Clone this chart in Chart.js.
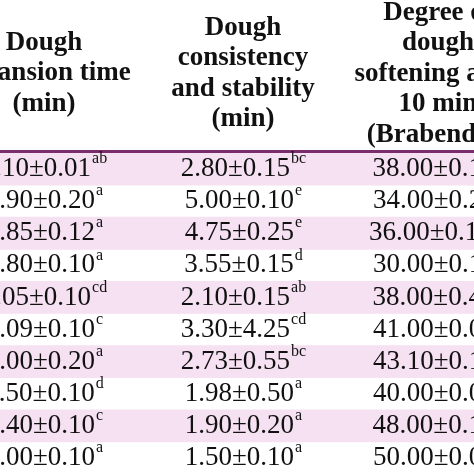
<!DOCTYPE html>
<html lang="en">
<head>
<meta charset="UTF-8">
<title>Dough table</title>
<script src="https://cdn.jsdelivr.net/npm/chart.js"></script>
<style>
    body { margin: 0; padding: 0; background: white; }
    #wrap { width: 474px; height: 474px; }
</style>
</head>
<body>
<div id="wrap"><canvas id="myChart" width="474" height="474"></canvas></div>
<script>
    // table data
    const headers = [
        ['Dough', 'expansion time', '(min)'],
        ['Dough', 'consistency', 'and stability', '(min)'],
        ['Degree of', 'dough', 'softening after', '10 min', '(Brabender)']
    ];
    const colCenters = [0.22, 1.215, 2.19];
    const col1 = ['2.10±0.01', '1.90±0.20', '1.85±0.12', '1.80±0.10', '2.05±0.10', '2.09±0.10', '2.00±0.20', '2.50±0.10', '2.40±0.10', '2.00±0.10'];
    const sup1 = ['ab', 'a', 'a', 'a', 'cd', 'c', 'a', 'd', 'c', 'a'];
    const col2 = ['2.80±0.15', '5.00±0.10', '4.75±0.25', '3.55±0.15', '2.10±0.15', '3.30±4.25', '2.73±0.55', '1.98±0.50', '1.90±0.20', '1.50±0.10'];
    const sup2 = ['bc', 'e', 'e', 'd', 'ab', 'cd', 'bc', 'a', 'a', 'a'];
    const col3 = ['38.00±0.10', '34.00±0.20', '36.00±0.10', '30.00±0.10', '38.00±0.40', '41.00±0.00', '43.10±0.10', '40.00±0.00', '48.00±0.10', '50.00±0.00'];
    const sup3 = ['b', 'a', 'ab', 'a', 'b', 'c', 'c', 'c', 'd', 'e'];
    const rows = col1.map((v, i) => 'r' + i);
    const stripes = rows.map((r, i) => i % 2 === 0 ? [0, 2.37] : null);

    const cols = [[col1, sup1], [col2, sup2], [col3, sup3]];

    // draws header + cell texts on top of the stripe bars
    const tablePlugin = {
        id: 'tableText',
        afterDatasetsDraw(chart) {
            const c = chart.ctx;
            const xs = chart.scales.x, ys = chart.scales.y;
            c.save();
            c.fillStyle = '#111';
            c.textBaseline = 'middle';
            c.textAlign = 'center';
            c.font = 'bold 27px "Liberation Serif"';
            const lh = 30.5;
            headers.forEach((lines, k) => {
                const x = xs.getPixelForValue(colCenters[k]);
                const base = lines.length === 3 ? 43 : lines.length === 4 ? 28 : 13;
                lines.forEach((t, j) => c.fillText(t, x, base + j * lh));
            });
            // purple rule
            c.fillStyle = '#7b2d6b';
            c.fillRect(0, chart.chartArea.top - 3, chart.width, 3);
            c.fillStyle = '#111';
            cols.forEach(([vals, sups], k) => {
                const x = xs.getPixelForValue(colCenters[k]);
                vals.forEach((v, i) => {
                    const y = ys.getPixelForValue(i);
                    c.font = '27px "Liberation Serif"';
                    const w1 = c.measureText(v).width;
                    c.font = '16px "Liberation Serif"';
                    const w2 = c.measureText(sups[i]).width;
                    const left = x - (w1 + w2) / 2;
                    c.textAlign = 'left';
                    c.font = '27px "Liberation Serif"';
                    c.fillText(v, left, y);
                    c.font = '16px "Liberation Serif"';
                    c.fillText(sups[i], left + w1 + 1, y - 10);
                });
            });
            c.restore();
        }
    };

    const ctx = document.getElementById('myChart').getContext('2d');
    const myChart = new Chart(ctx, {
        type: 'bar',
        data: {
            labels: rows,
            datasets: [{
                data: stripes,
                backgroundColor: '#f6e1f2',
                borderWidth: 0,
                barPercentage: 1,
                categoryPercentage: 1
            }]
        },
        options: {
            indexAxis: 'y',
            responsive: false,
            animation: false,
            layout: { padding: { top: 153, bottom: 0, left: 0, right: 0 } },
            plugins: { legend: { display: false }, tooltip: { enabled: false } },
            scales: {
                x: { display: false, min: 0, max: 2.37 },
                y: { display: false }
            }
        },
        plugins: [tablePlugin]
    });
</script>
</body>
</html>
